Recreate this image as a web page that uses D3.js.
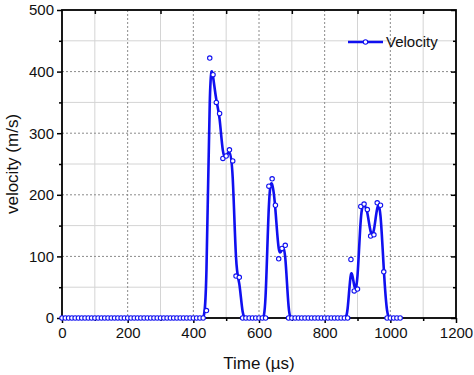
<!DOCTYPE html>
<html>
<head>
<meta charset="utf-8">
<script src="https://cdn.jsdelivr.net/npm/d3@7"></script>
<style>
  body { margin: 0; background: #fff; }
  text { font-family: "Liberation Sans", Arial, sans-serif; }
</style>
</head>
<body>
<div id="chart"></div>
<script>
// time in µs, sampled every 10 µs
var times = d3.range(0, 1040, 10);
// velocity (m/s), one per time sample
var velocity = [
    0, 0, 0, 0, 0, 0, 0, 0, 0, 0,            // 0-90
    0, 0, 0, 0, 0, 0, 0, 0, 0, 0,            // 100-190
    0, 0, 0, 0, 0, 0, 0, 0, 0, 0,            // 200-290
    0, 0, 0, 0, 0, 0, 0, 0, 0, 0,            // 300-390
    0, 0, 0, 0, 12, 422, 395, 350, 332, 259, // 400-490
    263, 273, 255, 68, 66, 0, 0, 0, 0, 0,    // 500-590
    0, 0, 0, 214, 226, 183, 96, 113, 118, 0, // 600-690
    0, 0, 0, 0, 0, 0, 0, 0, 0, 0,            // 700-790
    0, 0, 0, 0, 0, 0, 0, 0, 95, 44,          // 800-890
    47, 181, 185, 176, 133, 135, 187, 183, 75, 0, // 900-990
    0, 0, 0, 0                               // 1000-1030
];
var xTicks = [0, 200, 400, 600, 800, 1000, 1200];
var yTicks = [0, 100, 200, 300, 400, 500];
var seriesName = "Velocity";

var data = times.map(function (t, i) { return { t: t, v: velocity[i] }; });

var margin = { top: 10, right: 18, bottom: 57, left: 62 };
var width = 474, height = 375;
var w = width - margin.left - margin.right;
var h = height - margin.top - margin.bottom;

var svg = d3.select("#chart").append("svg")
    .attr("width", width)
    .attr("height", height);
var g = svg.append("g")
    .attr("transform", "translate(" + margin.left + "," + margin.top + ")");

var x = d3.scaleLinear().domain([0, 1200]).range([0, w]);
var y = d3.scaleLinear().domain([0, 500]).range([h, 0]);

var blue = "#1010f0";

// minor grid
g.selectAll(".gxm").data(d3.range(100, 1200, 200)).enter().append("line")
    .attr("x1", function (d) { return x(d); }).attr("x2", function (d) { return x(d); })
    .attr("y1", 0).attr("y2", h)
    .attr("stroke", "#d4d4d4").attr("stroke-width", 1);
g.selectAll(".gym").data(d3.range(50, 500, 100)).enter().append("line")
    .attr("y1", function (d) { return y(d); }).attr("y2", function (d) { return y(d); })
    .attr("x1", 0).attr("x2", w)
    .attr("stroke", "#d4d4d4").attr("stroke-width", 1);
// major grid
g.selectAll(".gx").data(xTicks.slice(1, -1)).enter().append("line")
    .attr("x1", function (d) { return x(d); }).attr("x2", function (d) { return x(d); })
    .attr("y1", 0).attr("y2", h)
    .attr("stroke", "#8a8a8a").attr("stroke-width", 1).style("stroke-dasharray", "2,2");
g.selectAll(".gy").data(yTicks.slice(1, -1)).enter().append("line")
    .attr("y1", function (d) { return y(d); }).attr("y2", function (d) { return y(d); })
    .attr("x1", 0).attr("x2", w)
    .attr("stroke", "#8a8a8a").attr("stroke-width", 1).style("stroke-dasharray", "2,2");

// axes
g.append("g")
    .attr("transform", "translate(0," + h + ")")
    .call(d3.axisBottom(x).tickValues(xTicks).tickFormat(d3.format("d"))
        .tickSize(5).tickSizeOuter(0).tickPadding(4));
g.append("g")
    .attr("transform", "translate(0," + h + ")")
    .call(d3.axisBottom(x).tickValues(d3.range(100, 1200, 200)).tickSize(3).tickFormat("").tickSizeOuter(0));
g.append("g")
    .call(d3.axisLeft(y).tickValues(yTicks).tickFormat(d3.format("d"))
        .tickSize(5).tickSizeOuter(0).tickPadding(3));
g.append("g")
    .call(d3.axisLeft(y).tickValues(d3.range(50, 500, 100)).tickSize(3).tickFormat("").tickSizeOuter(0));
g.append("g")
    .call(d3.axisTop(x).tickValues(d3.range(100, 1200, 200)).tickSize(-4).tickFormat("").tickSizeOuter(0));
g.append("g")
    .attr("transform", "translate(" + w + ",0)")
    .call(d3.axisRight(y).tickValues(yTicks).tickSize(-5).tickFormat("").tickSizeOuter(0));
g.append("g")
    .attr("transform", "translate(" + w + ",0)")
    .call(d3.axisRight(y).tickValues(d3.range(50, 500, 100)).tickSize(-3).tickFormat("").tickSizeOuter(0));

g.selectAll(".domain").remove();
g.selectAll(".tick line").attr("stroke", "#000").attr("stroke-width", 1.5);
g.selectAll(".tick text").attr("fill", "#111").style("font-size", "15px");

g.append("rect")
    .attr("width", w).attr("height", h)
    .attr("fill", "none").attr("stroke", "#000").attr("stroke-width", 1.8);

// line (smoothed B-spline)
var line = d3.line()
    .x(function (d) { return x(d.t); })
    .y(function (d) { return y(d.v); })
    .curve(d3.curveBasis);
g.append("path")
    .datum(data)
    .attr("d", line)
    .attr("fill", "none")
    .attr("stroke", blue)
    .attr("stroke-width", 2.6);

g.selectAll(".pt").data(data).enter().append("circle")
    .attr("cx", function (d) { return x(d.t); })
    .attr("cy", function (d) { return y(d.v); })
    .attr("r", 2.2)
    .attr("fill", "#fff")
    .attr("stroke", blue)
    .attr("stroke-width", 1.1);

// axis titles
svg.append("text")
    .attr("x", margin.left + w / 2)
    .attr("y", 369)
    .attr("text-anchor", "middle")
    .style("font-size", "17px")
    .attr("fill", "#111")
    .text("Time (\u00b5s)");
svg.append("text")
    .attr("transform", "translate(18," + (margin.top + h / 2) + ") rotate(-90)")
    .attr("text-anchor", "middle")
    .style("font-size", "17px")
    .attr("fill", "#111")
    .text("velocity (m/s)");

// legend
var lg = svg.append("g").attr("transform", "translate(348,42)");
lg.append("line").attr("x1", 0).attr("x2", 35).attr("y1", 0).attr("y2", 0)
    .attr("stroke", blue).attr("stroke-width", 2.6);
lg.append("circle").attr("cx", 17.5).attr("cy", 0).attr("r", 2.2)
    .attr("fill", "#fff").attr("stroke", blue).attr("stroke-width", 1.1);
lg.append("text").attr("x", 38).attr("y", 0).attr("dy", "0.35em")
    .style("font-size", "15px").attr("fill", "#111")
    .text(seriesName);
</script>
</body>
</html>
